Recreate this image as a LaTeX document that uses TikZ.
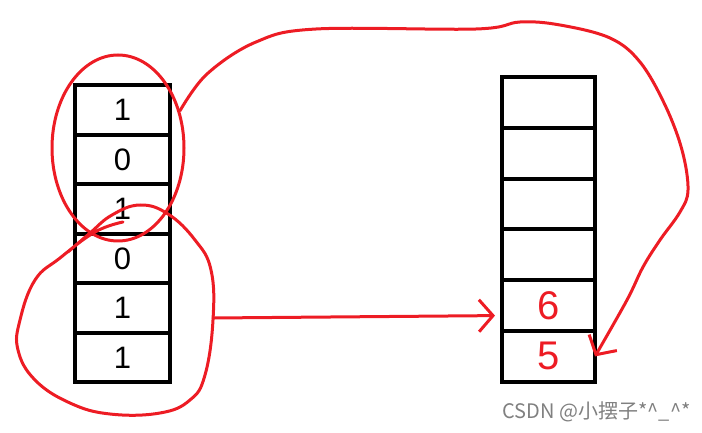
\documentclass[tikz,border=0pt]{standalone}
\usepackage{fontspec}
\setmainfont{Liberation Sans}
\newfontfamily\cjkfont{Noto Sans CJK SC}
\usepackage{tikz}
\usetikzlibrary{shapes.geometric, arrows.meta, positioning}
\definecolor{paintred}{RGB}{237,28,36}
\tikzstyle{cell} = [
	rectangle,
	draw=black,
	line width=4pt,
	outer sep=0pt,
	inner sep=0pt,
	minimum width=95pt,
	minimum height=49.5pt,
	font=\fontsize{31}{31}\selectfont
]
\tikzstyle{rcell} = [
	cell,
	minimum width=93pt,
	minimum height=50.8pt,
	text=paintred,
	font=\fontsize{40}{40}\selectfont
]
\tikzstyle{redline} = [draw=paintred, line width=3pt, line cap=round, line join=round]
\tikzstyle{arrow} = [-{Straight Barb[length=14pt, width=32pt]}]

\begin{document}
\begin{tikzpicture}[x=1pt, y=-1pt]
    \useasboundingbox (0,0) rectangle (702,433);
    \node[cell] at (122.5,110) (L1) {1};
    \node[cell, below=0pt of L1] (L2) {0};
    \node[cell, below=0pt of L2] (L3) {1};
    \node[cell, below=0pt of L3] (L4) {0};
    \node[cell, below=0pt of L4] (L5) {1};
    \node[cell, below=0pt of L5] (L6) {1};
    \node[rcell] at (548.5,102.4) (R1) {};
    \node[rcell, below=0pt of R1] (R2) {};
    \node[rcell, below=0pt of R2] (R3) {};
    \node[rcell, below=0pt of R3] (R4) {};
    \node[rcell, below=0pt of R4] (R5) {6};
    \node[rcell, below=0pt of R5] (R6) {5};
    \node[redline, ellipse, minimum width=132pt, minimum height=186pt] at (118,148) (grp1) {};
    \draw[redline] plot[smooth, tension=0.7] coordinates {(123,222) (95,232) (60,258) (35,280) (20,320) (18,350) (35,380) (70,403) (110,414) (160,413) (190,400) (205,375) (213,320) (211,270) (195,240) (168,214) (140,205) (112,215) (90,233) (68,252)};
    \coordinate (grp2) at (213,318);
    \draw[redline, arrow] plot[smooth, tension=0.6] coordinates {(grp1.31) (207,74) (256,42) (316,29) (476,29) (520,22) (560,25) (610,38) (640,62) (665,105) (682,150) (688,190) (680,212) (660,240) (643,267) (627,300) (R6.east)};
    \draw[redline, arrow] (grp2) -- ([xshift=-7pt, yshift=-10pt]R5.west);
    \node[anchor=east, text=gray, font=\cjkfont\fontsize{20}{20}\selectfont] at (694,412) (mark) {CSDN @小摆子*\textasciicircum\_\textasciicircum*};
  \end{tikzpicture}
\end{document}
